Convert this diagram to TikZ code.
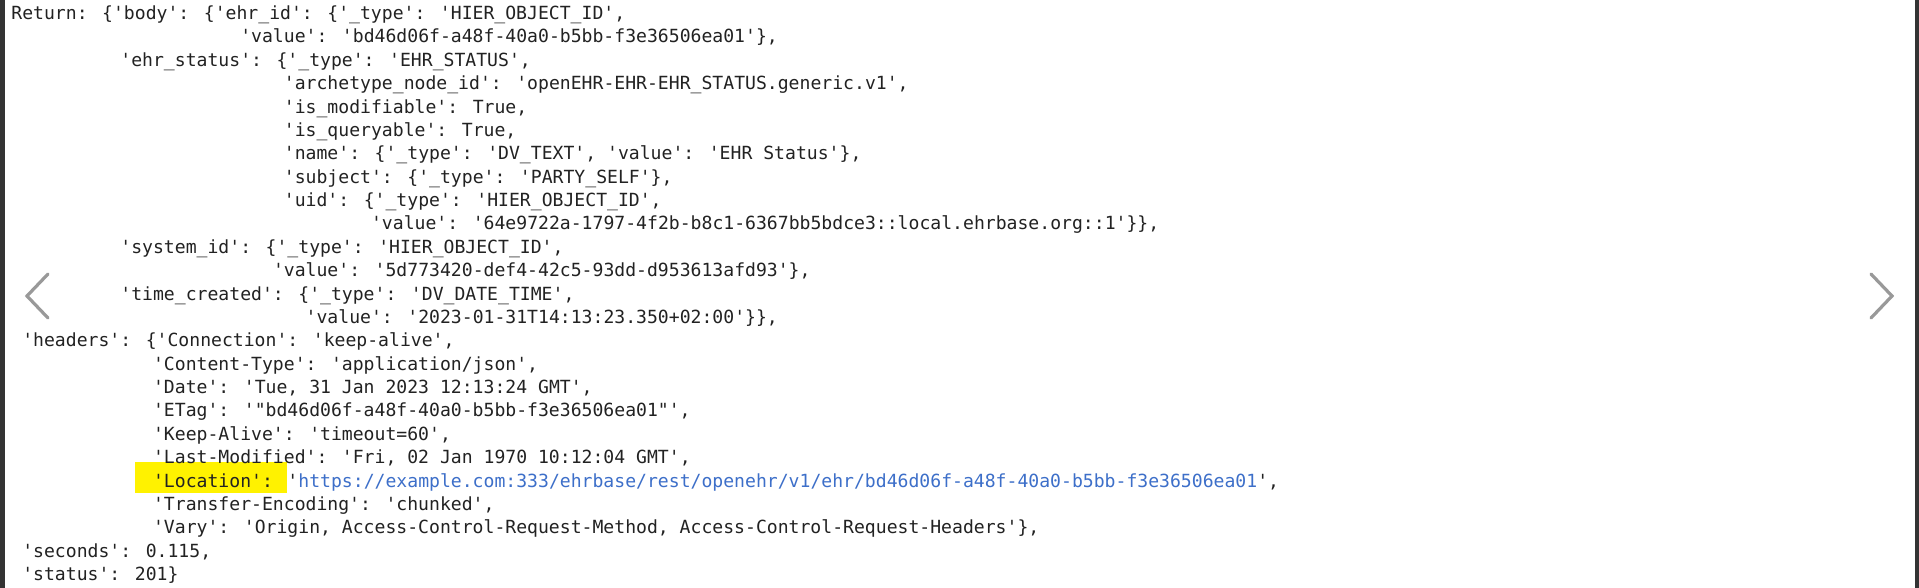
\documentclass[tikz,border=0pt]{standalone}
\usepackage{fontspec}
\newfontfamily\cf{DejaVu Sans Mono}
\definecolor{txt}{HTML}{222222}
\definecolor{url}{HTML}{3D6FC9}
\definecolor{frame}{HTML}{333333}
\definecolor{chev}{HTML}{999999}
\begin{document}
\begin{tikzpicture}[x=0.5pt,y=-0.5pt,
  ln/.style={anchor=base west,inner sep=0pt,font=\cf\fontsize{9.05}{11}\selectfont,text=txt},
  chevron/.style={draw=chev,line width=1.6pt,line cap=round,line join=miter}]
\useasboundingbox[fill=white] (0,0) rectangle (1919,588);
\fill[frame] (0,0) rectangle (5,588);
\fill[frame] (1915,0) rectangle (1919,588);
\fill[yellow] (135,462) rectangle (287,493);
\def\cw{10.9}
\def\lh{23.38}
\newcommand\Ln[3]{\node[ln] (#1) at ({11+#2*\cw},{19.5+\lh*\value{lnc}}) {#3};\stepcounter{lnc}}
\newcounter{lnc}
\Ln{l1}{0}{Return: \{'body': \{'ehr\_id': \{'\_type': 'HIER\_OBJECT\_ID',}
\Ln{l2}{21}{'value': 'bd46d06f-a48f-40a0-b5bb-f3e36506ea01'\},}
\Ln{l3}{10}{'ehr\_status': \{'\_type': 'EHR\_STATUS',}
\Ln{l4}{25}{'archetype\_node\_id': 'openEHR-EHR-EHR\_STATUS.generic.v1',}
\Ln{l5}{25}{'is\_modifiable': True,}
\Ln{l6}{25}{'is\_queryable': True,}
\Ln{l7}{25}{'name': \{'\_type': 'DV\_TEXT', 'value': 'EHR Status'\},}
\Ln{l8}{25}{'subject': \{'\_type': 'PARTY\_SELF'\},}
\Ln{l9}{25}{'uid': \{'\_type': 'HIER\_OBJECT\_ID',}
\Ln{l10}{33}{'value': '64e9722a-1797-4f2b-b8c1-6367bb5bdce3::local.ehrbase.org::1'\}\},}
\Ln{l11}{10}{'system\_id': \{'\_type': 'HIER\_OBJECT\_ID',}
\Ln{l12}{24}{'value': '5d773420-def4-42c5-93dd-d953613afd93'\},}
\Ln{l13}{10}{'time\_created': \{'\_type': 'DV\_DATE\_TIME',}
\Ln{l14}{27}{'value': '2023-01-31T14:13:23.350+02:00'\}\},}
\Ln{l15}{1}{'headers': \{'Connection': 'keep-alive',}
\Ln{l16}{13}{'Content-Type': 'application/json',}
\Ln{l17}{13}{'Date': 'Tue, 31 Jan 2023 12:13:24 GMT',}
\Ln{l18}{13}{'ETag': '"bd46d06f-a48f-40a0-b5bb-f3e36506ea01"',}
\Ln{l19}{13}{'Keep-Alive': 'timeout=60',}
\Ln{l20}{13}{'Last-Modified': 'Fri, 02 Jan 1970 10:12:04 GMT',}
\Ln{l21}{13}{'Location': '\textcolor{url}{https://example.com:333/ehrbase/rest/openehr/v1/ehr/bd46d06f-a48f-40a0-b5bb-f3e36506ea01}',}
\Ln{l22}{13}{'Transfer-Encoding': 'chunked',}
\Ln{l23}{13}{'Vary': 'Origin, Access-Control-Request-Method, Access-Control-Request-Headers'\},}
\Ln{l24}{1}{'seconds': 0.115,}
\Ln{l25}{1}{'status': 201\}}
\draw[chevron] (48,274) -- (27,296) -- (48,318);
\draw[chevron] (1871,274) -- (1892,296) -- (1871,318);
\end{tikzpicture}
\end{document}
